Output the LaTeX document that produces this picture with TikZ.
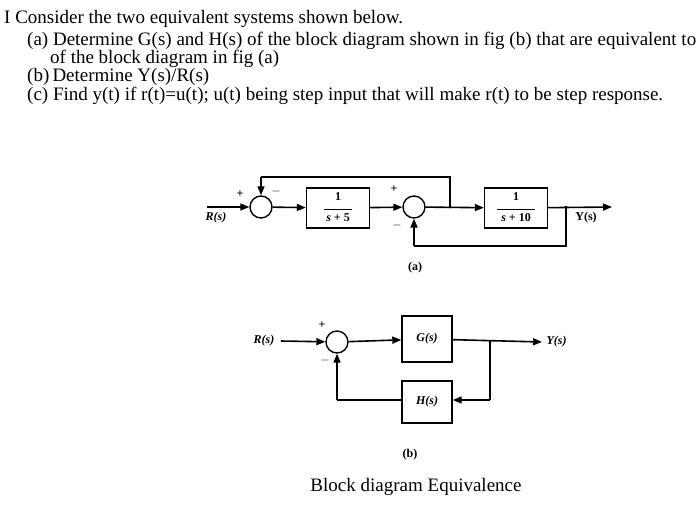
\documentclass[tikz,border=0pt]{standalone}
\usepackage{fontspec}
\setmainfont{Liberation Serif}
\usetikzlibrary{arrows.meta}
\begin{document}
\begin{tikzpicture}[x=1pt,y=-1pt,
  blk/.style={draw,line width=1.4pt,minimum height=0pt,inner sep=0pt},
  sumj/.style={draw,line width=1.4pt,circle,minimum size=22pt,inner sep=0pt},
  sig/.style={line width=1.6pt,-{Triangle[length=9pt,width=7pt]}},
  ln/.style={line width=1.6pt},
  lab/.style={font=\bfseries\fontsize{12}{14}\selectfont},
  txt/.style={anchor=base west,font=\fontsize{19}{21}\selectfont,inner sep=0pt}]
\useasboundingbox (0,0) rectangle (700,513);
% text
\node[txt] (t0) at (4,24) {I Consider the two equivalent systems shown below.};
\node[txt] (t1) at (27,46) {(a) Determine G(s) and H(s) of the block diagram shown in fig (b) that are equivalent to};
\node[txt] (t2) at (50,64) {of the block diagram in fig (a)};
\node[txt] (t3) at (27,82) {(b)\,Determine Y(s)/R(s)};
\node[txt] (t4) at (27,101) {(c) Find y(t) if r(t)=u(t); u(t) being step input that will make r(t) to be step response.};
% fig a
\coordinate (ra) at (207,207);
\node[sumj] (s1) at (261,207) {};
\node[blk,minimum width=63pt,minimum height=40pt,font=\bfseries\fontsize{12}{13}\selectfont] (b1) at (338,208) {\begin{tabular}{@{}c@{}}1\\[-3pt]\rule{28pt}{0.9pt}\\[-2pt]\textit{s} + 5\end{tabular}};
\node[sumj] (s2) at (414,207) {};
\coordinate (br1) at (450,207);
\node[blk,minimum width=63pt,minimum height=40pt,font=\bfseries\fontsize{12}{13}\selectfont] (b2) at (516,208) {\begin{tabular}{@{}c@{}}1\\[-3pt]\rule{38pt}{0.9pt}\\[-2pt]\textit{s} + 10\end{tabular}};
\coordinate (br2) at (566,207);
\coordinate (ya) at (612,207);
\draw[sig] (ra) -- (s1);
\draw[sig] (s1) -- (b1);
\draw[sig] (b1) -- (s2);
\draw[sig] (s2) -- (b2);
\draw[sig] (b2) -- (ya);
\draw[ln] (br1) -- (450,177) -- (261,177);
\draw[sig] (261,177) -- (s1);
\draw[ln] (br2) -- (566,246) -- (414,246);
\draw[sig] (414,246) -- (s2);
\fill (br1) circle (1.5pt) (br2) circle (1.5pt);
\node[lab] (la1) at (216,218) {\itshape R(s)};
\node[lab] (la2) at (586,218) {Y(s)};
\node[lab] (pa1) at (240,194) {+};
\node[lab] (ma1) at (276,191) {$-$};
\node[lab] (pa2) at (394,189) {+};
\node[lab] (ma2) at (397,225) {$-$};
\node[lab] (fa) at (415,268) {(a)};
% fig b
\node[lab] (rb) at (264,341) {\itshape R(s)};
\node[sumj] (s3) at (337,342) {};
\node[blk,lab,minimum width=50pt,minimum height=46pt] (g) at (427,339) {\itshape G(s)};
\coordinate (br3) at (490,342);
\coordinate (yb) at (542,342);
\node[lab,anchor=west] (yl) at (543,342) {\itshape Y(s)};
\node[blk,lab,minimum width=50pt,minimum height=42pt] (h) at (427,402) {\itshape H(s)};
\draw[sig] (rb.east) ++(3,0) -- (s3);
\draw[sig] (s3) -- (g);
\draw[sig] (g) -- (yb);
\draw[ln] (br3) -- (490,400);
\draw[sig] (490,400) -- (h.east |- 0,400);
\draw[ln] (h.west |- 0,400) -- (337,400);
\draw[sig] (337,400) -- (s3);
\fill (br3) circle (1.5pt);
\node[lab] (pb) at (322,325) {+};
\node[lab] (mb) at (325,360) {$-$};
\node[lab] (fb) at (410,455) {(b)};
\node[txt,anchor=base] (cap) at (416,491) {Block diagram Equivalence};
\end{tikzpicture}
\end{document}
